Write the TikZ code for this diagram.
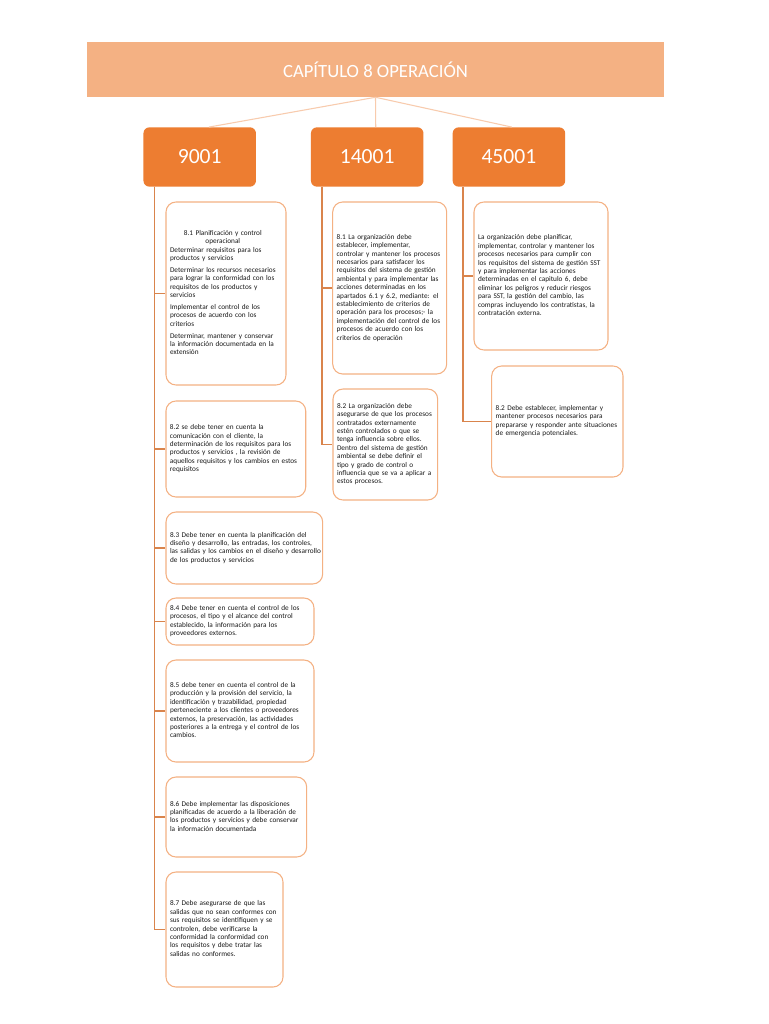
\documentclass[tikz,border=0pt]{standalone}
\usepackage{fontspec}
\setmainfont{Carlito}
\definecolor{titlefill}{HTML}{F4B183}
\definecolor{toplink}{HTML}{F8CBAD}
\definecolor{numfill}{HTML}{ED7D31}
\definecolor{boxline}{HTML}{F4B183}
\definecolor{branch}{HTML}{D9844C}
\definecolor{bodytext}{HTML}{1A1A1A}
\begin{document}
\begin{tikzpicture}[x=0.75pt,y=-0.75pt]
\tikzset{
  titlebox/.style={fill=titlefill, draw=none, minimum width=432.75pt, minimum height=41.25pt,
    text=white, font=\fontsize{14}{16}\selectfont, inner sep=0pt},
  numbox/.style={fill=numfill, draw=none, rounded corners=4.5pt, minimum width=84.4pt,
    minimum height=44.5pt, text=white, font=\fontsize{16.2}{18}\selectfont, inner sep=0pt},
  childbox/.style={draw=boxline, fill=white, line width=0.8pt, rounded corners=7.5pt,
    inner xsep=3pt, inner ysep=0pt, text=bodytext, font=\fontsize{5.45}{6.3}\selectfont},
  toplinkline/.style={draw=toplink, line width=0.8pt},
  branchline/.style={draw=branch, line width=1pt},
}
\newcommand{\cbox}[7]{% name, cx, cy, W pt, H pt, text width pt, content
  \node[childbox, minimum width=#4, minimum height=#5, text width=#6] (#1) at (#2,#3)
   {\begin{tabular}{@{}l@{}}#7\end{tabular}};}
\fill[white] (0,0) rectangle (768,1024);
\useasboundingbox (0,0) rectangle (768,1024);

% title and number boxes
\node[titlebox] (title) at (375.5,69.5) {CAPÍTULO 8 OPERACIÓN};
\node[numbox] (b1) at (199.7,157) {9001};
\node[numbox] (b2) at (367.2,157) {14001};
\node[numbox] (b3) at (508.9,157) {45001};

\draw[toplinkline] (title.south) -- ([xshift=7pt]b1.north);
\draw[toplinkline] (title.south) -- ([xshift=6.4pt]b2.north);
\draw[toplinkline] (title.south) -- ([xshift=2.1pt]b3.north);

% 9001 children
\cbox{c91}{226}{293.5}{90pt}{137.25pt}{84pt}{%
\multicolumn{1}{@{}c@{}}{8.1 Planificación y control}\\ \multicolumn{1}{@{}c@{}}{operacional}\\
Determinar requisitos para los\\ productos y servicios\\[2.6pt]
Determinar los recursos necesarios\\ para lograr la conformidad con los\\ requisitos de los productos y\\ servicios\\[2.6pt]
Implementar el control de los\\ procesos de acuerdo con los\\ criterios\\[2.6pt]
Determinar, mantener y conservar\\ la información documentada en la\\ extensión}
\cbox{c92}{235.85}{449}{104.8pt}{72pt}{98.8pt}{%
8.2 se debe tener en cuenta la\\ comunicación con el cliente, la\\ determinación de los requisitos para los\\ productos y servicios , la revisión de\\ aquellos requisitos y los cambios en estos\\ requisitos}
\cbox{c93}{244.35}{548}{117.5pt}{54pt}{111.5pt}{%
8.3 Debe tener en cuenta la planificación del\\ diseño y desarrollo, las entradas, los controles,\\ las salidas y los cambios en el diseño y desarrollo\\ de los productos y servicios}
\cbox{c94}{240}{621.5}{111pt}{35.25pt}{105pt}{%
8.4 Debe tener en cuenta el control de los\\ procesos, el tipo y el alcance del control\\ establecido, la información para los\\ proveedores externos.}
\cbox{c95}{240}{711}{111pt}{76.5pt}{105pt}{%
8.5 debe tener en cuenta el control de la\\ producción y la provisión del servicio, la\\ identificación y trazabilidad, propiedad\\ perteneciente a los clientes o proveedores\\ externos, la preservación, las actividades\\ posteriores a la entrega y el control de los\\ cambios.}
\cbox{c96}{236.35}{817}{105.5pt}{60pt}{99.5pt}{%
8.6 Debe implementar las disposiciones\\ planificadas de acuerdo a la liberación de\\ los productos y servicios y debe conservar\\ la información documentada}
\cbox{c97}{224.5}{929.5}{87.75pt}{86.25pt}{81.75pt}{%
8.7 Debe asegurarse de que las\\ salidas que no sean conformes con\\ sus requisitos se identifiquen y se\\ controlen, debe verificarse la\\ conformidad la conformidad con\\ los requisitos y debe tratar las\\ salidas no conformes.}

% 14001 children
\cbox{c141}{389.7}{288}{85.5pt}{129pt}{79.5pt}{%
8.1 La organización debe\\ establecer, implementar,\\ controlar y mantener los procesos\\ necesarios para satisfacer los\\ requisitos del sistema de gestión\\ ambiental y para implementar las\\ acciones determinadas en los\\ apartados 6.1 y 6.2, mediante: el\\ establecimiento de criterios de\\ operación para los procesos;- la\\ implementación del control de los\\ procesos de acuerdo con los\\ criterios de operación}
\cbox{c142}{385.35}{444.5}{78.5pt}{83.25pt}{72.5pt}{%
8.2 La organización debe\\ asegurarse de que los procesos\\ contratados externamente\\ estén controlados o que se\\ tenga influencia sobre ellos.\\ Dentro del sistema de gestión\\ ambiental se debe definir el\\ tipo y grado de control o\\ influencia que se va a aplicar a\\ estos procesos.}

% 45001 children
\cbox{c451}{541}{276}{100.5pt}{111pt}{94.5pt}{%
La organización debe planificar,\\ implementar, controlar y mantener los\\ procesos necesarios para cumplir con\\ los requisitos del sistema de gestión SST\\ y para implementar las acciones\\ determinadas en el capitulo 6, debe\\ eliminar los peligros y reducir riesgos\\ para SST, la gestión del cambio, las\\ compras incluyendo los contratistas, la\\ contratación externa.}
\cbox{c452}{557.35}{421.5}{98.5pt}{83.25pt}{92.5pt}{%
8.2 Debe establecer, implementar y\\ mantener procesos necesarios para\\ prepararse y responder ante situaciones\\ de emergencia potenciales.}

% branch connectors
\coordinate (v1) at ([xshift=8.6pt]b1.south west);
\coordinate (v2) at ([xshift=8.4pt]b2.south west);
\coordinate (v3) at ([xshift=8pt]b3.south west);
\foreach \c in {c91,c92,c93,c94,c95,c96,c97} \draw[branchline] (v1) |- (\c.west);
\foreach \c in {c141,c142} \draw[branchline] (v2) |- (\c.west);
\foreach \c in {c451,c452} \draw[branchline] (v3) |- (\c.west);
\end{tikzpicture}
\end{document}
